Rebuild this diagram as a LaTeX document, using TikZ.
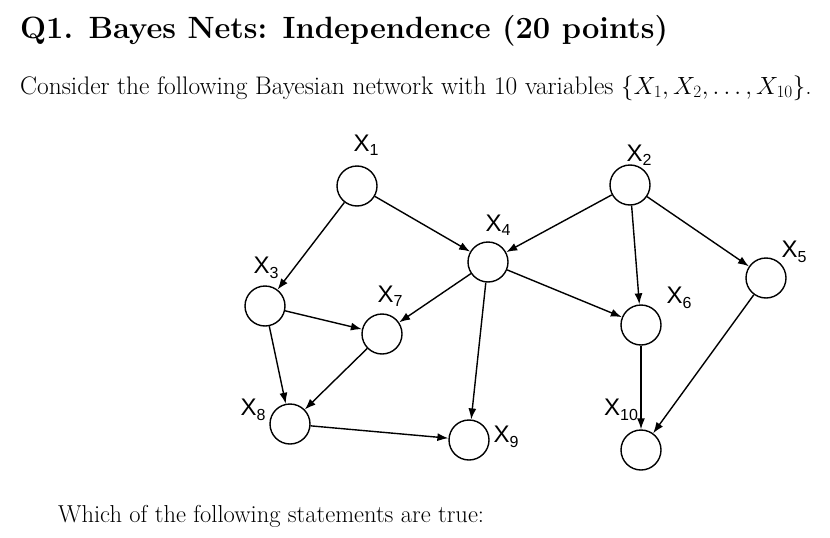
\documentclass[tikz,border=0pt]{standalone}
\usepackage{fontspec}
\usetikzlibrary{arrows.meta}
\newfontfamily\lab{Liberation Sans}
\newcommand{\xv}[1]{X\raisebox{-0.35ex}{\fontsize{16}{17}\selectfont #1}}
\begin{document}
\begin{tikzpicture}[x=1pt,y=-1pt,
 var/.style={circle,draw,line width=1.4pt,minimum size=40pt,inner sep=0pt},
 lbl/.style={font=\lab\fontsize{24}{26}\selectfont,inner sep=0pt},
 edge/.style={-{Latex[length=11pt,width=8pt]},line width=1.4pt}]
\useasboundingbox[fill=white] (0,0) rectangle (830,538);
\node[anchor=west,inner sep=0pt,font=\bfseries\fontsize{30.8}{34}\selectfont] (title) at (20,31) {Q1. Bayes Nets: Independence (20 points)};
\node[anchor=west,inner sep=0pt,font=\fontsize{25.4}{28}\selectfont] (intro) at (20,88) {Consider the following Bayesian network with 10 variables $\{X_1,X_2,\ldots,X_{10}\}$.};
\node[anchor=west,inner sep=0pt,font=\fontsize{24.5}{28}\selectfont] (q) at (58,516) {Which of the following statements are true:};
\node[var] (x1) at (357,186) {};
\node[var] (x2) at (630,185) {};
\node[var] (x4) at (488,262) {};
\node[var] (x5) at (766,278) {};
\node[var] (x3) at (265,306) {};
\node[var] (x7) at (382,334) {};
\node[var] (x6) at (641,325) {};
\node[var] (x8) at (290,424) {};
\node[var] (x9) at (469,440) {};
\node[var] (x10) at (641,450) {};
\node[lbl] (l1) at (366,145) {\xv{1}};
\node[lbl] (l2) at (639,155) {\xv{2}};
\node[lbl] (l4) at (498,225) {\xv{4}};
\node[lbl] (l5) at (794,252) {\xv{5}};
\node[lbl] (l3) at (266,268) {\xv{3}};
\node[lbl] (l7) at (390,296) {\xv{7}};
\node[lbl] (l6) at (679,298) {\xv{6}};
\node[lbl] (l8) at (253,410) {\xv{8}};
\node[lbl] (l9) at (506,437) {\xv{9}};
\node[lbl] (l10) at (621,410) {\xv{10}};
\draw[edge] (x1) -- (x4);
\draw[edge] (x1) -- (x3);
\draw[edge] (x2) -- (x4);
\draw[edge] (x2) -- (x6);
\draw[edge] (x2) -- (x5);
\draw[edge] (x4) -- (x7);
\draw[edge] (x4) -- (x9);
\draw[edge] (x4) -- (x6);
\draw[edge] (x3) -- (x7);
\draw[edge] (x3) -- (x8);
\draw[edge] (x7) -- (x8);
\draw[edge] (x8) -- (x9);
\draw[edge] (x6) -- (x10);
\draw[edge] (x5) -- (x10);
\end{tikzpicture}
\end{document}
